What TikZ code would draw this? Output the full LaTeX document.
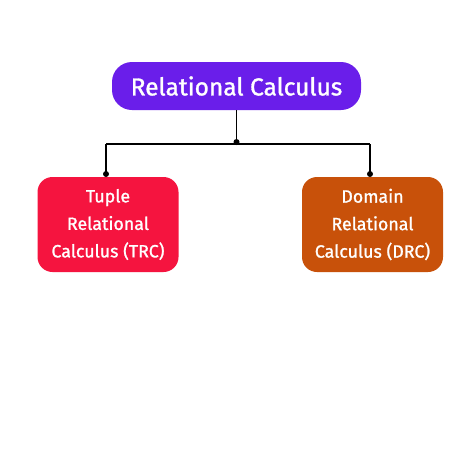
\documentclass[tikz,border=0pt]{standalone}
\usepackage{fontspec}
\setmainfont{Fira Sans}
\newfontfamily\medfont{Fira Sans}[FakeBold=1.2]
\definecolor{topc}{HTML}{6A1EEA}
\definecolor{leftc}{HTML}{F5143F}
\definecolor{rightc}{HTML}{C8510A}
\tikzset{
  boxa/.style={rounded corners=15pt, inner sep=0pt, text=white, align=center},
  conn/.style={line width=1.3pt, black},
  dotc/.style={circle, fill=black, inner sep=0pt, minimum size=6pt}
}
\begin{document}
\begin{tikzpicture}[x=1pt,y=-1pt]
\useasboundingbox[fill=white] (0,0) rectangle (474,474);
\node[boxa, fill=topc, minimum width=249pt, minimum height=48pt, font=\medfont\fontsize{24.5}{28}\selectfont, rounded corners=20pt] (top) at (236.5,86) {Relational Calculus};
\node[boxa, fill=leftc, minimum width=141pt, minimum height=95pt, font=\medfont\fontsize{17.8}{27.5}\selectfont] (trc) at (108,224.5) {Tuple\\Relational\\Calculus (TRC)};
\node[boxa, fill=rightc, minimum width=141pt, minimum height=95pt, font=\medfont\fontsize{17.8}{27.5}\selectfont] (drc) at (372.5,224.5) {Domain\\Relational\\Calculus (DRC)};
\coordinate (j) at (236.5,144);
\coordinate (jl) at (106,144);
\coordinate (jr) at (370,144);
\coordinate (tl) at (106,174);
\coordinate (tr) at (370,174);
\draw[conn] (top.south) -- (j);
\draw[conn] (jl) -- (jr);
\draw[conn] (jl) -- (tl);
\draw[conn] (jr) -- (tr);
\node[dotc] (d0) at (236.5,142) {};
\node[dotc] (d1) at (tl) {};
\node[dotc] (d2) at (tr) {};
\end{tikzpicture}
\end{document}
